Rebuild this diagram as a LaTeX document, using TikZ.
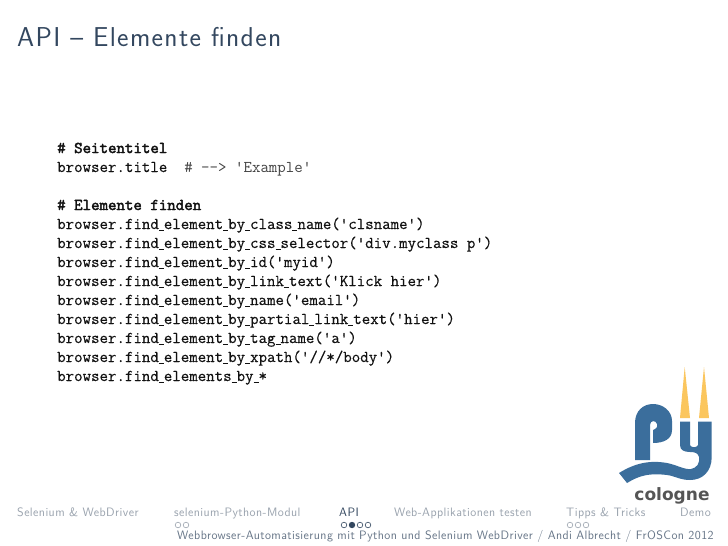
\documentclass[tikz,border=0pt]{standalone}
\usepackage{fontspec}
\setmainfont{Latin Modern Roman}
\newfontfamily\codefont[FakeBold=0.35]{Latin Modern Mono}
\newfontfamily\codeplainfont{Latin Modern Mono}
\newfontfamily\codeboldfont[FakeBold=2.4]{Latin Modern Mono}
\newfontfamily\titlefont[LetterSpace=5]{Latin Modern Sans}
\newfontfamily\navfont[LetterSpace=3.5]{Latin Modern Sans}
\newfontfamily\logofont{DejaVu Sans}
\newcommand{\usc}{\rule[-1.4pt]{5pt}{0.7pt}}
\definecolor{titlecol}{HTML}{33475F}
\definecolor{navdim}{HTML}{9AA3AE}
\definecolor{navact}{HTML}{33475F}
\definecolor{codecol}{HTML}{111111}
\definecolor{commentcol}{HTML}{444444}
\definecolor{logoblue}{HTML}{3B6E9C}
\definecolor{logogold}{HTML}{FBC65E}
\definecolor{logogray}{HTML}{555555}
\tikzset{
 x=1pt,y=-1pt,
 codeline/.style={anchor=base west,inner sep=0pt,font=\fontsize{16.45}{16.45}\codefont,text=codecol},
 codebold/.style={codeline,font=\fontsize{16.45}{16.45}\codeboldfont},
 titletext/.style={anchor=base west,inner sep=0pt,font=\fontsize{27.3}{27.3}\titlefont,text=titlecol},
 navtext/.style={anchor=base west,inner sep=0pt,font=\fontsize{12.2}{12.2}\navfont,text=navdim},
 navon/.style={navtext,text=navact},
 foot/.style={anchor=base west,inner sep=0pt,font=\fontsize{12.2}{12.2}\navfont,text=titlecol!75!white},
 dot/.style={draw=#1,line width=.6pt,fill=none},
 dot/.default=navdim
}
\begin{document}
\begin{tikzpicture}
\useasboundingbox[fill=white] (0,0) rectangle (728,546);
\node[titletext] (title) at (17,46) {API \textendash{} Elemente finden};
\foreach \n/\y/\t in {
 c1/172/{browser.title\ \ {\codeplainfont\color{commentcol}\# {-}{-}> 'Example'}},
 c2/229/{browser.find\usc element\usc by\usc class\usc name('clsname')},
 c3/248/{browser.find\usc element\usc by\usc css\usc selector('div.myclass p')},
 c4/267/{browser.find\usc element\usc by\usc id('myid')},
 c5/286/{browser.find\usc element\usc by\usc link\usc text('Klick hier')},
 c6/305/{browser.find\usc element\usc by\usc name('email')},
 c7/324/{browser.find\usc element\usc by\usc partial\usc link\usc text('hier')},
 c8/343/{browser.find\usc element\usc by\usc tag\usc name('a')},
 c9/362/{browser.find\usc element\usc by\usc xpath('//*/body')},
 c10/381/{browser.find\usc elements\usc by\usc *}}
 {\node[codeline] (\n) at (57,\y) {\t};}
\node[codebold] (h1) at (57,153) {\# Seitentitel};
\node[codebold] (h2) at (57,210) {\# Elemente finden};
% navigation
\node[navtext] (n1) at (17,516) {Selenium \& WebDriver};
\node[navtext] (n2) at (174,516) {selenium-Python-Modul};
\node[navon] (n3) at (339,516) {API};
\node[navtext] (n4) at (394,516) {Web-Applikationen testen};
\node[navtext] (n5) at (566,516) {Tipps \& Tricks};
\node[navtext] (n6) at (680,516) {Demo};
\foreach \x in {178,186} \draw[dot] (\x,525) circle (2.8);
\foreach \x in {344,360,368} \draw[dot=navact] (\x,525) circle (2.8);
\fill[navact] (352,525) circle (3.2);
\foreach \x in {570,578,586} \draw[dot] (\x,525) circle (2.8);
\node[foot] (f) at (177,539) {Webbrowser-Automatisierung mit Python und Selenium WebDriver / Andi Albrecht / FrOSCon 2012};
% logo
\fill[logogold] (684.7,367) -- (690,418) -- (680,418) -- cycle;
\fill[logogold] (704,367) -- (709,418) -- (699,418) -- cycle;
\fill[logoblue] (635,460) -- (635,423) .. controls (635,411) and (643,404) .. (653,404)
 .. controls (663,404) and (672,411) .. (672,421) -- (672,430)
 .. controls (672,439) and (664,443) .. (653,443) -- (653,430)
 .. controls (656,429) and (658,427) .. (657,424) .. controls (656,420) and (650,420) .. (650,425)
 -- (650,460) -- cycle;
\fill[logoblue] (680,421.7) -- (690,421.7) -- (690,445) .. controls (691,448) and (697,448) .. (698,445)
 -- (698,421.7) -- (711.7,421.7) -- (711.7,457)
 .. controls (711.7,472) and (702,480) .. (690,480)
 .. controls (680,480) and (675,476) .. (667,475)
 .. controls (650,473) and (640,475) .. (627,483)
 -- (619,473) .. controls (635,463) and (650,460) .. (667,463)
 .. controls (677,465) and (685,470) .. (691,469)
 .. controls (697,468) and (700,463) .. (699,457)
 .. controls (698,453) and (695,452) .. (690,452)
 .. controls (684,452) and (680,450) .. (680,445) -- cycle;
\node[anchor=base,inner sep=0pt,font=\fontsize{17}{17}\logofont\bfseries,text=logogray] (logotext) at (672,500) {cologne};
\end{tikzpicture}
\end{document}
